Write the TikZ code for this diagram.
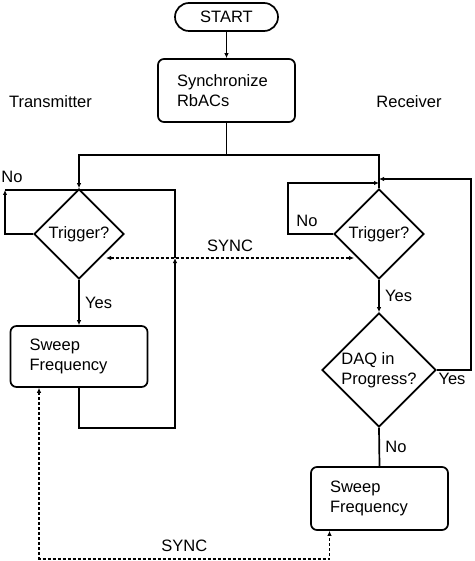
\documentclass[tikz,border=0pt]{standalone}
\usepackage{fontspec}
\setmainfont{Liberation Sans}
\usetikzlibrary{shapes.geometric,arrows.meta}

\begin{document}
\begin{tikzpicture}[x=1pt,y=-1pt,line width=1.7pt,
    >={Latex[length=5pt,width=4.5pt]},
    every node/.style={font=\fontsize{16.5}{20}\selectfont},
    term/.style={draw,rectangle,rounded corners=14pt,minimum width=103pt,minimum height=28pt,inner sep=0pt},
    proc/.style={draw,rectangle,rounded corners=6pt,text width=99pt,inner xsep=19pt,inner ysep=0pt,minimum height=62pt,align=left},
    dec/.style={draw,diamond,aspect=1,inner sep=0pt,minimum width=#1,minimum height=#1},
    syncline/.style={line width=1.3pt,dash pattern=on 3pt off 2pt}]
    \useasboundingbox (0,0) rectangle (474,561);

    \node[term] (start) at (226.5,17) {START};
    \node[proc,minimum height=63pt] (rbac) at (226.5,90.5) {Synchronize\\RbACs};
    \node (tx) at (50.5,102) {Transmitter};
    \node (rx) at (409,102) {Receiver};
    \node[dec=90pt] (trigtx) at (79,234) {Trigger?};
    \node[dec=90pt] (trigrx) at (379,234) {Trigger?};
    \node[proc,minimum height=61pt] (sweeptx) at (79,356.5) {Sweep\\Frequency};
    \node[dec=114pt,align=left] (daq) at (379,370) {DAQ in\\Progress?};
    \node[proc,minimum height=63pt] (sweeprx) at (379.5,498.5) {Sweep\\Frequency};

    \coordinate (split) at (226.5,155);
    \coordinate (notx) at (5,190);
    \coordinate (looptx) at (175,428);
    \coordinate (synctx) at (175,258);
    \coordinate (norx) at (379,183);
    \coordinate (yesrx) at (379,179);
    \coordinate (syncl) at (106,258);
    \coordinate (syncr) at (354,258);

    \draw[->] (start) -- (rbac);
    \draw (rbac) -- (split);
    \draw[->] (split) -| (trigtx.north);
    \draw (split) -| (trigrx.north);

    % transmitter side
    \draw[->] (trigtx.west) -| (notx);
    \node at (12,177) {No};
    \draw[->] (trigtx.south) -- node[right,xshift=2pt] {Yes} (sweeptx.north);
    \draw[->] (sweeptx.south) |- (looptx) -- (synctx);
    \draw (synctx) |- (notx);

    % receiver side
    \draw[->] (trigrx.west) -| (288,183) -- (norx);
    \node at (307,221) {No};
    \draw[->] (trigrx.south) -- node[right,xshift=2pt] {Yes} (daq.north);
    \draw[->] (daq.east) -| (471,179) -- (yesrx);
    \node at (452,379) {Yes};
    \draw (daq.south) -- node[right,xshift=2pt] {No} (sweeprx.north);

    % sync lines
    \draw[syncline,<->] (syncl) -- node[above,yshift=2pt] {SYNC} (syncr);
    \draw[syncline,<->] ([xshift=-40pt]sweeptx.south) -- ++(0,171) -| node[pos=0.25,above,yshift=3pt] {SYNC} ([xshift=-50pt]sweeprx.south);
\end{tikzpicture}
\end{document}
